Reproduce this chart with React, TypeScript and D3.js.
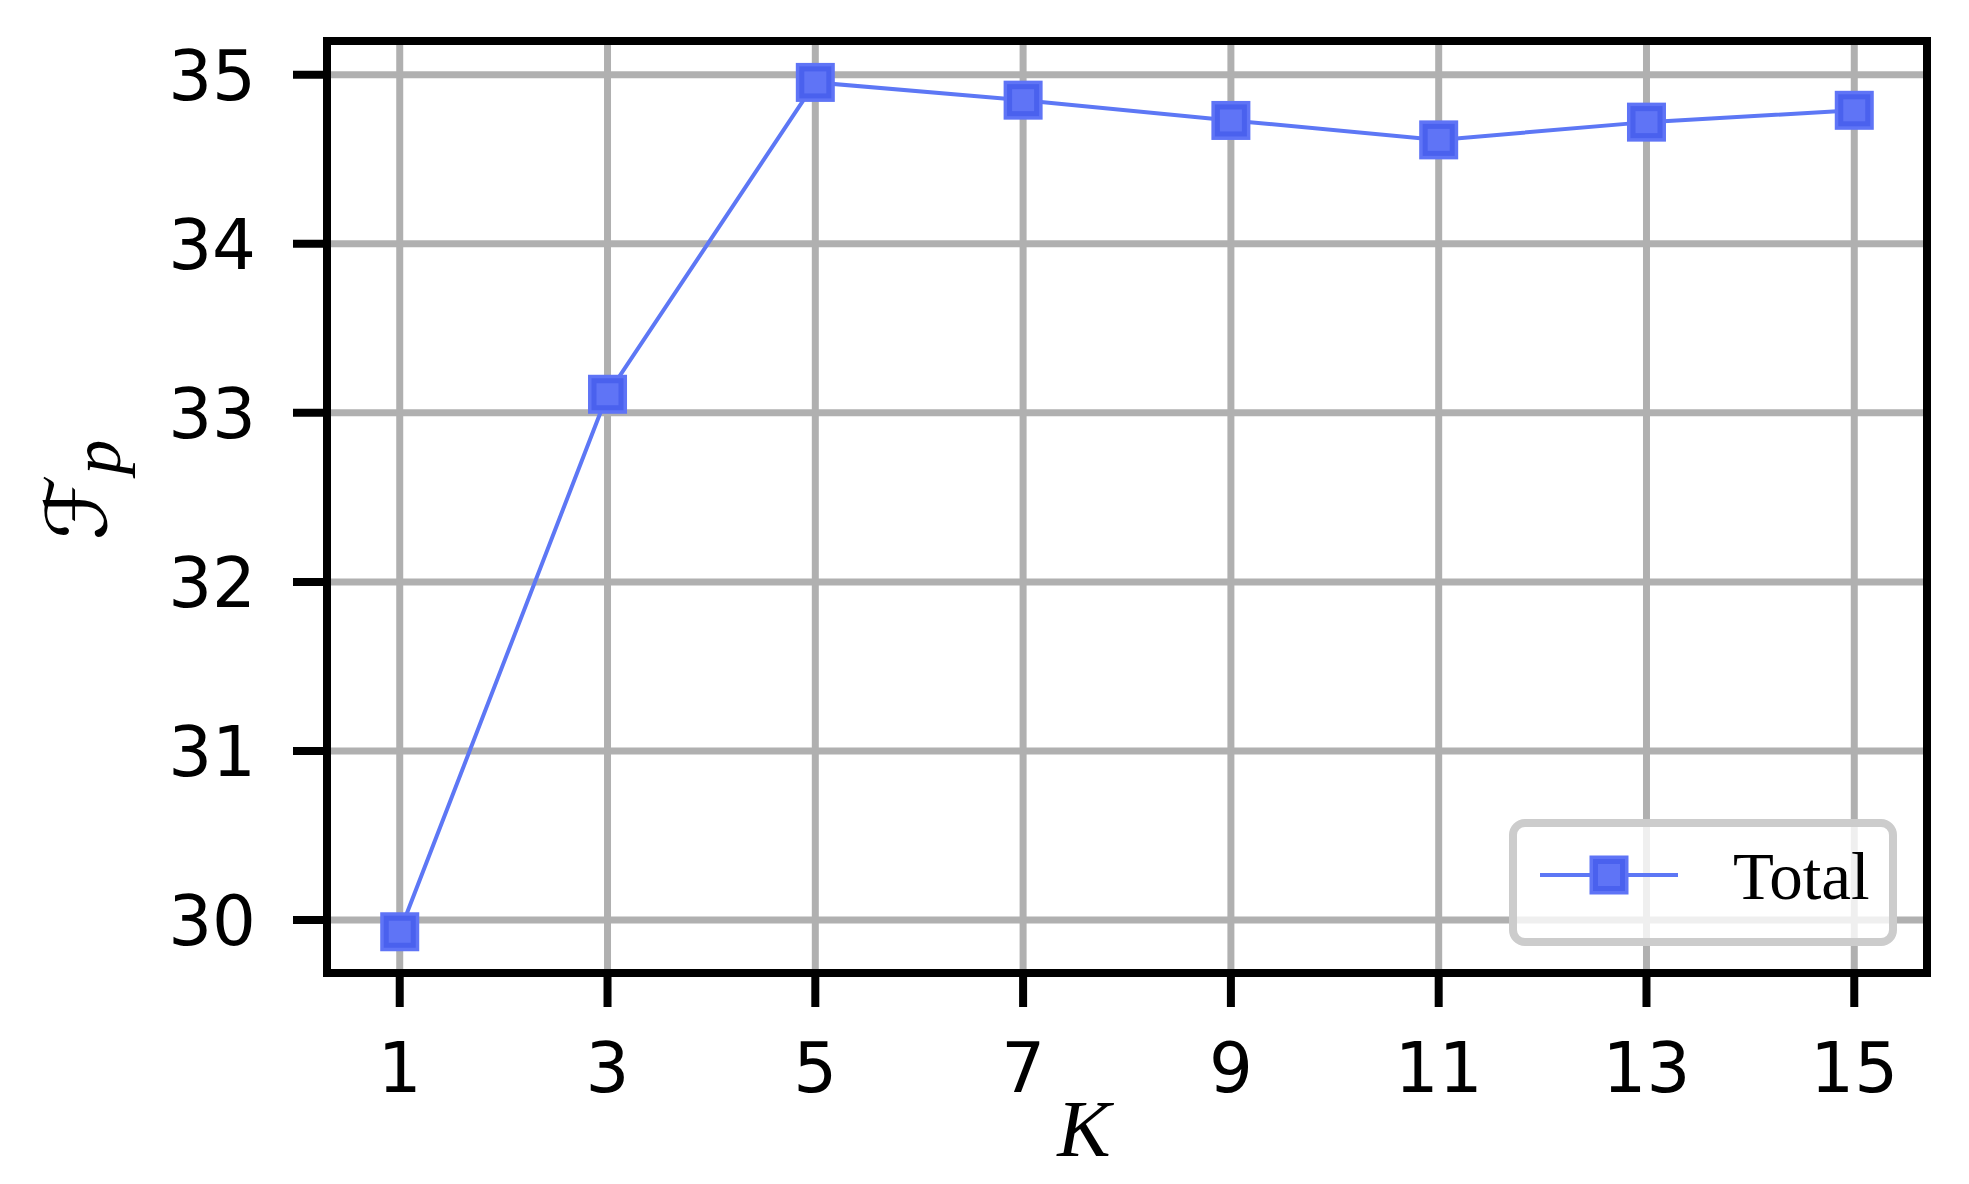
import * as d3 from "d3";

// K values and F_p scores
const kValues = [1, 3, 5, 7, 9, 11, 13, 15];
const fpValues = [29.93, 33.11, 34.955, 34.85, 34.73, 34.615, 34.72, 34.79];
const yTicks = [30, 31, 32, 33, 34, 35];
const seriesName = "Total";

const W = 1969;
const H = 1184;
const left = 327;
const right = 1927;
const top = 41;
const bottom = 973;

const lineColor = "#5d77f5";
const markFill = "#5f74f6";
const markEdge = "#4a61ee";

function Marker({ cx, cy }: { cx: number; cy: number }) {
  const s = 39;
  const inner = 27;
  return (
    <g>
      <rect x={cx - s / 2} y={cy - s / 2} width={s} height={s} fill={markFill} />
      <rect
        x={cx - inner / 2}
        y={cy - inner / 2}
        width={inner}
        height={inner}
        fill="none"
        stroke={markEdge}
        strokeWidth={5}
      />
    </g>
  );
}

export default function App() {
  const x = d3.scaleLinear().domain([0.3, 15.7]).range([left, right]);
  const y = d3.scaleLinear().domain([29.686, 35.2]).range([bottom, top]);

  const pts = kValues.map((k, i) => [x(k), y(fpValues[i])] as [number, number]);
  const line = d3.line()(pts) || "";

  const lgX = 1513, lgY = 823, lgW = 380, lgH = 119;
  const lgMid = 875;

  return (
    <div style={{ position: "absolute", left: 0, top: 0 }}>
      <svg width={W} height={H} style={{ display: "block", background: "#fff" }}>
        {/* grid */}
        <g stroke="#b0b0b0" strokeWidth={7}>
          {kValues.map((k) => (
            <line key={"gx" + k} x1={x(k)} x2={x(k)} y1={top} y2={bottom} />
          ))}
          {yTicks.map((t) => (
            <line key={"gy" + t} x1={left} x2={right} y1={y(t)} y2={y(t)} />
          ))}
        </g>

        {/* series */}
        <path d={line} fill="none" stroke={lineColor} strokeWidth={4} />
        {pts.map(([px, py], i) => (
          <Marker key={i} cx={px} cy={py} />
        ))}

        {/* spines */}
        <rect
          x={left}
          y={top}
          width={right - left}
          height={bottom - top}
          fill="none"
          stroke="#000"
          strokeWidth={8}
        />

        {/* ticks */}
        <g stroke="#000" strokeWidth={8}>
          {kValues.map((k) => (
            <line key={"tx" + k} x1={x(k)} x2={x(k)} y1={bottom} y2={bottom + 34} />
          ))}
          {yTicks.map((t) => (
            <line key={"ty" + t} x1={left - 34} x2={left} y1={y(t)} y2={y(t)} />
          ))}
        </g>
        <g fontFamily="'DejaVu Sans', sans-serif" fontSize={69} fill="#000">
          {kValues.map((k) => (
            <text key={"lx" + k} x={x(k)} y={1092} textAnchor="middle">
              {k}
            </text>
          ))}
          {yTicks.map((t) => (
            <text key={"ly" + t} x={256} y={y(t) + 25} textAnchor="end">
              {t}
            </text>
          ))}
        </g>

        {/* axis labels */}
        <text
          x={1084}
          y={1156}
          textAnchor="middle"
          fontFamily="'Liberation Serif', serif"
          fontStyle="italic"
          fontSize={80}
        >
          K
        </text>
        <text
          transform="translate(106,490) rotate(-90)"
          textAnchor="middle"
          fontFamily="'DejaVu Sans', serif"
          fontSize={84}
        >
          ℱ
          <tspan fontFamily="'Liberation Serif', serif" fontStyle="italic" fontSize={70} dy={14}>
            p
          </tspan>
        </text>

        {/* legend */}
        <rect
          x={lgX}
          y={lgY}
          width={lgW}
          height={lgH}
          rx={12}
          fill="#fff"
          fillOpacity={0.8}
          stroke="#cccccc"
          strokeWidth={8}
        />
        <line x1={1540} x2={1678} y1={lgMid} y2={lgMid} stroke={lineColor} strokeWidth={4} />
        <Marker cx={1609} cy={lgMid} />
        <text x={1733} y={899} fontFamily="'Liberation Serif', serif" fontSize={67}>
          {seriesName}
        </text>
      </svg>
    </div>
  );
}
